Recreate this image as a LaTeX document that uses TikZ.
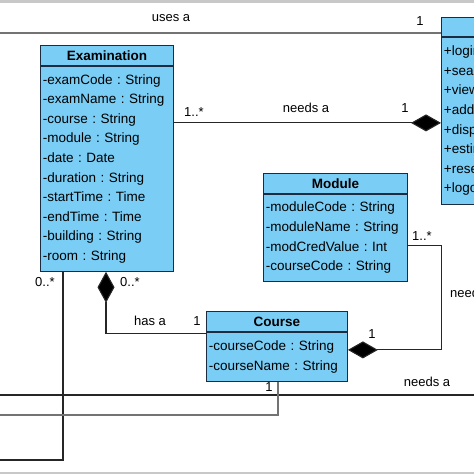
\documentclass[tikz,border=0pt]{standalone}
\usepackage{fontspec}
\setmainfont{Liberation Sans}
\usetikzlibrary{positioning,arrows.meta}
\frenchspacing
\definecolor{clsfill}{RGB}{122,205,245}
\definecolor{clsline}{RGB}{28,44,64}
\definecolor{bandgray}{RGB}{200,200,200}
\tikzset{
    classhead/.style={draw=clsline,fill=clsfill,line width=0.9pt,inner sep=0pt,minimum height=20pt,font=\bfseries\fontsize{13.5}{16}\selectfont},
    classbody/.style={draw=clsline,fill=clsfill,line width=0.9pt,inner xsep=2.5pt,inner ysep=0pt,align=left,font=\fontsize{13.5}{19.6}\selectfont},
    link/.style={draw=black!85,line width=1.1pt},
    faint link/.style={draw=black!55,line width=1.1pt},
    comp/.style={link,-{Diamond[fill=black,length=30pt,width=17pt]}},
    comp start/.style={link,{Diamond[fill=black,length=31pt,width=17pt]}-},
    mult/.style={inner sep=0pt,font=\fontsize{13}{15}\selectfont}
}

\begin{document}
\begin{tikzpicture}[x=1pt,y=-1pt]
        \useasboundingbox (0,0) rectangle (474,474);
        \fill[bandgray] (0,0) rectangle (474,2.5);
        \fill[bandgray] (0,471.5) rectangle (474,474);

        \node[classhead,minimum width=133pt,anchor=north west] (exam) at (40,45) {Examination};
        \node[classbody,below=0pt of exam,text width=128pt,minimum height=205pt] (exambody)
            {-examCode : String\\-examName : String\\-course : String\\-module : String\\-date : Date\\
             -duration : String\\-startTime : Time\\-endTime : Time\\-building : String\\-room : String};

        \node[classhead,minimum width=120pt,minimum height=19pt,anchor=north west] (sys) at (441,17) {};
        \node[classbody,below=0pt of sys,text width=115pt,minimum height=167pt] (sysbody)
            {+login\\+search\\+view\\+add\\+display\\+estimate\\+reset\\+logout};

        \node[classhead,minimum width=144pt,anchor=north west] (module) at (263,173) {Module};
        \node[classbody,below=0pt of module,text width=139pt,minimum height=87pt] (modbody)
            {-moduleCode : String\\-moduleName : String\\-modCredValue : Int\\-courseCode : String};

        \node[classhead,minimum width=141pt,anchor=north west] (course) at (206,311) {Course};
        \node[classbody,below=0pt of course,text width=136pt,minimum height=49pt] (coursebody)
            {-courseCode : String\\-courseName : String};

        \coordinate (usesEnd) at (0,33);
        \draw[faint link] (usesEnd) -- (usesEnd -| sys.west);
        \node[mult] (usesLbl) at (171,18) {uses a};
        \node[mult] (usesOne) at (420,21) {1};

        \coordinate (needA) at ([yshift=-57pt]exambody.north east);
        \draw[comp] (needA) -- (needA -| sysbody.west);
        \node[mult] (needMany) at (194,112) {1..*};
        \node[mult] (needLbl) at (306,108) {needs a};
        \node[mult] (needOne) at (405,108) {1};

        \coordinate (modA) at ([yshift=-52pt]modbody.north east);
        \coordinate (crsA) at ([yshift=-18pt]coursebody.north east);
        \draw[comp] (modA) -- ++(34,0) |- (crsA);
        \node[mult] (modMany) at (422,236) {1..*};
        \node[mult,anchor=west] (modLbl) at (450,293) {needs a};
        \node[mult] (crsOne) at (372,334) {1};

        \coordinate (hasA) at ([xshift=66pt]exambody.south west);
        \coordinate (crsW) at ([yshift=-2pt]coursebody.north west);
        \draw[comp start] (hasA) |- (crsW);
        \node[mult] (hasMany) at (130,282) {0..*};
        \node[mult] (hasLbl) at (150,321) {has a};
        \node[mult] (hasOne) at (197,321) {1};

        \coordinate (exL) at ([xshift=23pt]exambody.south west);
        \coordinate (leftEnd) at (0,460);
        \draw[link] (exL) |- (leftEnd);
        \node[mult] (leftMany) at (45,282) {0..*};

        \coordinate (nL) at (0,395);
        \coordinate (nR) at (474,395);
        \draw[link] (nL) -- (nR);
        \node[mult] (lowLbl) at (427,382) {needs a};

        \coordinate (crsB) at ([xshift=72pt]coursebody.south west);
        \coordinate (dropEnd) at (0,415);
        \draw[faint link] (crsB) |- (dropEnd);
        \node[mult] (dropOne) at (269,387) {1};
    \end{tikzpicture}
\end{document}
